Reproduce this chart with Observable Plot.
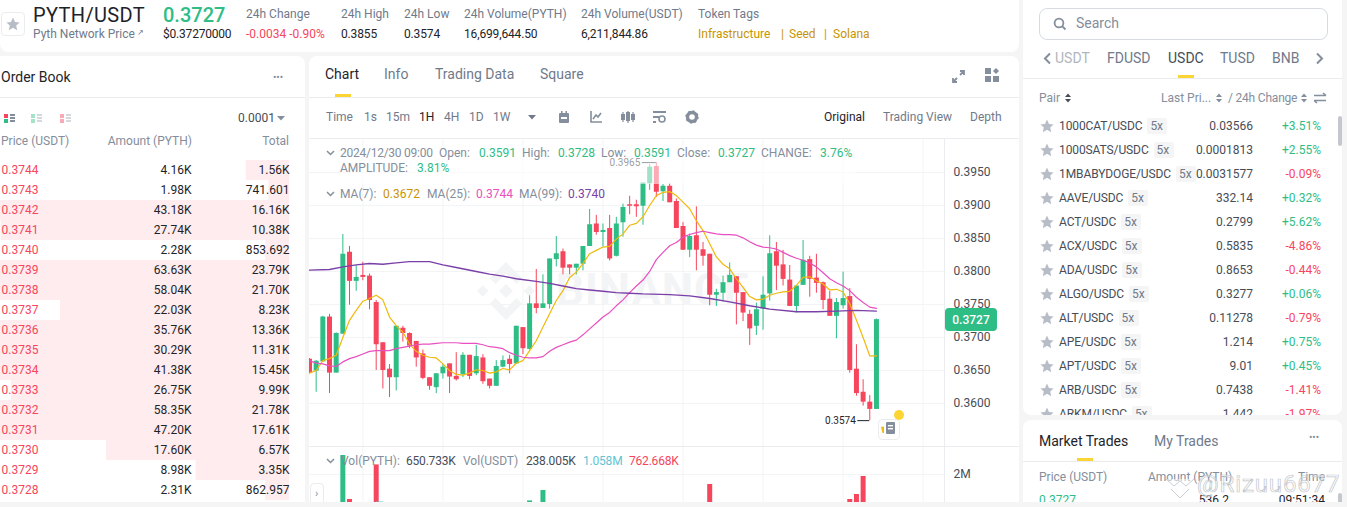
<!DOCTYPE html>
<html><head><meta charset="utf-8">
<script src="https://cdn.jsdelivr.net/npm/d3@7"></script>
<script src="https://cdn.jsdelivr.net/npm/@observablehq/plot@0.6"></script>
<style>
html,body{margin:0;padding:0;background:#f5f5f5}
#root{position:relative;width:1347px;height:507px;overflow:hidden;background:#f5f5f5;font-family:Roboto,"Noto Sans",sans-serif;font-size:12px;color:#1e2329}
.p{position:absolute;background:#fff;overflow:hidden}
.t{position:absolute;line-height:1;white-space:nowrap;transform:translateY(-50%)}
.t.r{transform:translate(-100%,-50%)}
.b{position:absolute}
svg{display:block}
</style></head><body><div id="root"></div>
<script>
// ---- 1H candles, PYTH/USDT ----
const opens=[.3667,.3649,.3663,.3731,.3646,.3705,.3829,.3785,.3794,.3793,.3753,.3692,.3652,.3639,.3714,.3706,.3694,.3675,.3639,.3624,.3645,.3660,.3641,.3644,.3673,.3645,.3669,.3637,.3626,.3655,.3667,.3660,.3715,.3682,.3751,.3744,.3750,.3818,.3830,.3810,.3805,.3811,.3838,.3872,.3859,.3865,.3823,.3874,.3901,.3901,.3899,.3933,.3959,.3921,.3929,.3906,.3868,.3832,.3854,.3833,.3826,.3764,.3767,.3783,.3792,.3768,.3735,.3717,.3743,.3766,.3830,.3810,.3787,.3747,.3779,.3818,.3790,.3783,.3758,.3732,.3748,.3762,.3652,.3617,.3602,.3591];
const closes=[.3647,.3664,.3731,.3646,.3706,.3826,.3785,.3791,.3791,.3756,.3689,.3650,.3639,.3717,.3706,.3687,.3669,.3638,.3626,.3645,.3655,.3640,.3636,.3673,.3641,.3671,.3633,.3626,.3656,.3665,.3659,.3717,.3683,.3751,.3744,.3751,.3819,.3827,.3805,.3805,.3811,.3838,.3871,.3859,.3862,.3819,.3872,.3897,.3899,.3898,.3934,.3958,.3920,.3929,.3904,.3865,.3832,.3853,.3832,.3823,.3764,.3768,.3783,.3794,.3767,.3737,.3713,.3742,.3764,.3827,.3808,.3788,.3747,.3778,.3817,.3788,.3782,.3756,.3732,.3753,.3759,.3650,.3615,.3602,.3591,.3727];
const highs=[.3668,.3665,.3732,.3735,.3707,.3856,.3838,.3809,.3814,.3796,.3756,.3692,.3659,.3717,.3717,.3707,.3694,.3681,.3639,.3645,.3659,.3660,.3677,.3677,.3673,.3688,.3674,.3637,.3665,.3672,.3673,.3717,.3715,.3763,.3803,.3795,.3819,.3853,.3834,.3810,.3811,.3838,.3894,.3885,.3872,.3885,.3882,.3902,.3914,.3908,.3934,.3962,.3965,.3932,.3933,.3910,.3874,.3857,.3898,.3844,.3826,.3773,.3793,.3813,.3792,.3768,.3741,.3752,.3792,.3854,.3844,.3832,.3809,.3778,.3847,.3823,.3826,.3784,.3770,.3759,.3799,.3774,.3689,.3636,.3612,.3728];
const lows=[.3645,.3617,.3663,.3615,.3646,.3705,.3749,.3770,.3786,.3742,.3650,.3622,.3609,.3619,.3693,.3683,.3655,.3636,.3620,.3615,.3637,.3615,.3634,.3639,.3636,.3642,.3629,.3622,.3626,.3654,.3645,.3659,.3674,.3681,.3736,.3744,.3743,.3807,.3795,.3795,.3795,.3801,.3838,.3855,.3837,.3816,.3822,.3852,.3886,.3882,.3870,.3923,.3912,.3906,.3904,.3865,.3832,.3821,.3801,.3808,.3748,.3747,.3754,.3783,.3719,.3724,.3688,.3703,.3711,.3755,.3771,.3778,.3747,.3737,.3779,.3761,.3767,.3742,.3732,.3698,.3743,.3646,.3611,.3596,.3574,.3591];
const ma7=[.3646,.3650,.3665,.3668,.3673,.3700,.3726,.3741,.3755,.3759,.3764,.3757,.3731,.3718,.3708,.3690,.3679,.3673,.3670,.3669,.3660,.3650,.3644,.3643,.3646,.3651,.3650,.3646,.3648,.3653,.3651,.3661,.3665,.3680,.3695,.3716,.3736,.3756,.3771,.3791,.3799,.3812,.3827,.3832,.3837,.3838,.3849,.3857,.3870,.3873,.3883,.3900,.3915,.3920,.3921,.3915,.3905,.3895,.3877,.3862,.3842,.3822,.3811,.3804,.3789,.3776,.3762,.3757,.3758,.3764,.3767,.3769,.3770,.3779,.3791,.3792,.3786,.3781,.3772,.3773,.3769,.3751,.3726,.3700,.3672,.3672];
const ma25=[.3665,.3661,.3660,.3657,.3656,.3663,.3668,.3671,.3675,.3679,.3680,.3680,.3680,.3683,.3685,.3687,.3689,.3690,.3690,.3691,.3692,.3692,.3692,.3691,.3691,.3691,.3689,.3686,.3685,.3683,.3677,.3673,.3670,.3669,.3669,.3671,.3679,.3685,.3689,.3693,.3696,.3704,.3713,.3722,.3731,.3738,.3748,.3757,.3768,.3778,.3787,.3800,.3818,.3829,.3839,.3844,.3852,.3856,.3859,.3861,.3859,.3857,.3856,.3856,.3855,.3851,.3845,.3840,.3837,.3836,.3834,.3829,.3824,.3820,.3817,.3813,.3807,.3798,.3789,.3783,.3778,.3771,.3761,.3753,.3746,.3744];
const ma99Index=[0,3,5,7,9,11,13,15,17,18,20,22,25,27,29,31,34,36,38,40,42,44,46,48,50,54,57,60,63,66,69,73,76,79,82,85];
const ma99=[.3802,.3803,.3807,.3810,.3812,.3811,.3813,.3815,.3815,.3815,.3810,.3806,.3800,.3796,.3793,.3789,.3785,.3782,.3778,.3774,.3772,.3770,.3768,.3767,.3766,.3765,.3763,.3759,.3754,.3748,.3743,.3739,.3739,.3740,.3741,.3740];
const priceTicks=[.36,.365,.37,.375,.38,.385,.39,.395];
const timeGrid=[8,20,32,44,56,68,80,92];
// visible volume bars (millions of PYTH)
const volIndex=[5,6,10,33,35,60,81,82,83];
const volValues=[2.475,1.375,2.24,1.34,1.6,1.75,1.375,1.5,1.95];
const volMaIndex=[10,11];
const volMa=[1.3,1.3];
// order book
const bookPrices=["0.3744","0.3743","0.3742","0.3741","0.3740","0.3739","0.3738","0.3737","0.3736","0.3735","0.3734","0.3733","0.3732","0.3731","0.3730","0.3729","0.3728"];
const bookAmounts=[4.16,1.98,43.18,27.74,2.28,63.63,58.04,22.03,35.76,30.29,41.38,26.75,58.35,47.20,17.60,8.98,2.31];
const bookAmountLabels=["4.16K","1.98K","43.18K","27.74K","2.28K","63.63K","58.04K","22.03K","35.76K","30.29K","41.38K","26.75K","58.35K","47.20K","17.60K","8.98K","2.31K"];
const bookTotals=["1.56K","741.601","16.16K","10.38K","853.692","23.79K","21.70K","8.23K","13.36K","11.31K","15.45K","9.99K","21.78K","17.61K","6.57K","3.35K","862.957"];
// pair list
const pairs=["1000CAT/USDC","1000SATS/USDC","1MBABYDOGE/USDC","AAVE/USDC","ACT/USDC","ACX/USDC","ADA/USDC","ALGO/USDC","ALT/USDC","APE/USDC","APT/USDC","ARB/USDC","ARKM/USDC"];
const pairPrices=["0.03566","0.0001813","0.0031577","332.14","0.2799","0.5835","0.8653","0.3277","0.11278","1.214","9.01","0.7438","1.442"];
const pairChanges=["+3.51%","+2.55%","-0.09%","+0.32%","+5.62%","-4.86%","-0.44%","+0.06%","-0.79%","+0.75%","+0.45%","-1.41%","-1.97%"];

const GREEN="#2ebd85",RED="#f6465d",DARK="#1e2329",GREY="#707a8a",GOLD="#c99400",FONT='Roboto,"Noto Sans",sans-serif';
const root=document.getElementById("root");
function panel(x,y,w,h,r){const d=document.createElement("div");d.className="p";d.style.cssText=`left:${x}px;top:${y}px;width:${w}px;height:${h}px;border-radius:${r||"0"}`;root.appendChild(d);return d;}
function T(par,s,x,y,o){o=o||{};const d=document.createElement("div");d.className="t"+(o.r?" r":"");d.textContent=s;
 d.style.left=x+"px";d.style.top=y+"px";d.style.fontSize=(o.s||12)+"px";d.style.color=o.c||GREY;if(o.w)d.style.fontWeight=o.w;if(o.ls)d.style.letterSpacing=o.ls;if(o.o)d.style.opacity=o.o;par.appendChild(d);return d;}
function B(par,x,y,w,h,c,r){const d=document.createElement("div");d.className="b";d.style.cssText=`left:${x}px;top:${y}px;width:${w}px;height:${h}px;background:${c};border-radius:${r||0}px`;par.appendChild(d);return d;}
function S(par,x,y,w,h,inner,vb){const d=document.createElement("div");d.className="b";d.style.cssText=`left:${x}px;top:${y}px;width:${w}px;height:${h}px`;d.innerHTML=`<svg width="${w}" height="${h}" viewBox="${vb||`0 0 ${w} ${h}`}">${inner}</svg>`;par.appendChild(d);return d;}
const star=c=>`<polygon fill="${c}" points="7,0.5 9,5 13.6,5.4 10.2,8.5 11.2,13.2 7,10.7 2.8,13.2 3.8,8.5 0.4,5.4 5,5"/>`;
const sort=c=>`<path fill="${c}" d="M4 0.5L7 4H1ZM4 9.5L1 6H7Z"/>`;
const caret=c=>`<path fill="${c}" d="M0 0H8L4 4.5Z"/>`;

// ---------- panels ----------
const top0=panel(0,0,1019,52,"0 0 8px 8px");
const ob=panel(0,56,305,446,"0 8px 0 0");
const ch=panel(309,56,710,446,"8px 8px 0 0");
const rp=panel(1023,0,319,415,"0 0 8px 8px");
const mt=panel(1023,420,319,82,"8px 8px 0 0");

// ---------- top bar ----------
B(top0,1,12,22,22,"#fff",4).style.border="1px solid #eaecef";
S(top0,6,17,14,14,star("#b7bdc6"));
T(top0,"PYTH/USDT",33,15,{s:20,c:DARK,ls:".35px"});
T(top0,"0.3727",163,15,{s:20,c:GREEN,w:500});
T(top0,"Pyth Network Price",33,34,{});
T(top0,"↗",137,33,{s:8});
T(top0,"$0.37270000",163,34,{c:DARK,ls:"-.2px"});
[["24h Change",246],["24h High",341],["24h Low",404],["24h Volume(PYTH)",464],["24h Volume(USDT)",581],["Token Tags",698]].forEach(a=>T(top0,a[0],a[1],14,{}));
T(top0,"-0.0034 -0.90%",246,34,{c:RED});
[["0.3855",341],["0.3574",404],["16,699,644.50",464],["6,211,844.86",581]].forEach(a=>T(top0,a[0],a[1],34,{c:DARK,ls:"-.15px"}));
[["Infrastructure",698],["|",781],["Seed",789],["|",824],["Solana",833]].forEach(a=>T(top0,a[0],a[1],34,{c:GOLD}));

// ---------- order book ----------
const oy=y=>y-56;
T(ob,"Order Book",1,oy(77),{s:14,c:DARK});
T(ob,"•••",273,oy(78),{s:10,c:"#848e9c"});
B(ob,0,oy(97),305,1,"#eaecef");
[[4,"#f6465d","#2ebd85","#848e9c"],[31,"#a5e3c8","#a5e3c8","#d5d8dc"],[60,"#fba9b4","#fba9b4","#d5d8dc"]].forEach(a=>{
 B(ob,a[0],oy(114),4,4,a[1]);B(ob,a[0],oy(119),4,4,a[2]);
 for(let k=0;k<3;k++)B(ob,a[0]+6,oy(114+k*3.2),5,2,a[3]);
});
T(ob,"0.0001",238,oy(118),{c:"#474d57"});
S(ob,277,oy(116),8,5,caret("#848e9c"));
T(ob,"Price (USDT)",1,oy(141),{c:"#848e9c"});
T(ob,"Amount (PYTH)",192,oy(141),{c:"#848e9c",r:1});
T(ob,"Total",289,oy(141),{c:"#848e9c",r:1});

const book=bookPrices.map((p,i)=>({price:p,amount:bookAmounts[i],label:bookAmountLabels[i],total:bookTotals[i]}));
const bookPlot=Plot.plot({width:289,height:340,margin:0,
 style:{background:"transparent",fontFamily:FONT,fontSize:"12px",overflow:"visible"},
 x:{domain:[0,27.8],range:[289,0],clamp:true,axis:null},
 y:{type:"band",domain:bookPrices,padding:0,axis:null},
 marks:[
  Plot.barX(book,{x1:0,x2:"amount",y:"price",fill:"#feecee",insetTop:0,insetBottom:0}),
  Plot.text(book,{text:"price",y:"price",frameAnchor:"left",textAnchor:"start",dx:1,fill:RED,fontSize:12}),
  Plot.text(book,{text:"label",y:"price",frameAnchor:"right",textAnchor:"end",dx:-98,fill:"#1e2329",fontSize:12}),
  Plot.text(book,{text:"total",y:"price",frameAnchor:"right",textAnchor:"end",fill:"#1e2329",fontSize:12})
 ]});
bookPlot.style.position="absolute";bookPlot.style.left="0";bookPlot.style.top=oy(160)+"px";ob.appendChild(bookPlot);

// ---------- chart header ----------
const cx=x=>x-309,cy=y=>y-56;
T(ch,"Chart",cx(325),cy(74),{s:14,c:DARK});
[["Info",384],["Trading Data",435],["Square",540]].forEach(a=>T(ch,a[0],cx(a[1]),cy(74),{s:14}));
B(ch,cx(335),cy(94),16,3,"#fcd535");
B(ch,0,cy(97),710,1,"#eaecef");
S(ch,cx(952),cy(70),13,13,`<path fill="none" stroke="#848e9c" stroke-width="1.8" d="M8 1H12V5M12 1L8 5M5 12H1V8M1 12L5 8"/>`);
S(ch,cx(985),cy(68),14,14,`<g fill="#848e9c"><rect x="0" y="0" width="6" height="6"/><rect x="0" y="8" width="6" height="6"/><rect x="8" y="8" width="6" height="6"/><path d="M11 0L14 3L11 6L8 3Z"/></g>`);
[["Time",326],["1s",364],["15m",386],["4H",444],["1D",469],["1W",493]].forEach(a=>T(ch,a[0],cx(a[1]),cy(117),{}));
T(ch,"1H",cx(419),cy(117),{c:DARK});
S(ch,cx(528),cy(115),8,5,caret(GREY));
const ic="#848e9c";
S(ch,cx(558),cy(111),12,12,`<g fill="${ic}"><rect x="1" y="2" width="10" height="10" rx="1"/><rect x="3" y="0" width="1.5" height="3"/><rect x="7.5" y="0" width="1.5" height="3"/></g><rect x="3" y="6" width="6" height="2" fill="#fff"/>`);
S(ch,cx(590),cy(111),12,12,`<path fill="none" stroke="${ic}" stroke-width="1.6" d="M1 0V11H12M3 8L6 4L8 6L11 2"/>`);
S(ch,cx(620),cy(111),16,12,`<g fill="${ic}"><rect x="1" y="3" width="4" height="6"/><rect x="2.4" y="1" width="1.2" height="10"/><rect x="6" y="1" width="4" height="9"/><rect x="7.4" y="0" width="1.2" height="12"/><rect x="11" y="3" width="4" height="6"/><rect x="12.4" y="1" width="1.2" height="10"/></g>`);
S(ch,cx(653),cy(111),14,12,`<g fill="${ic}"><rect x="0" y="0" width="13" height="2"/><rect x="0" y="5" width="6" height="2"/><rect x="0" y="10" width="3" height="2"/></g><circle cx="9" cy="8" r="3" fill="none" stroke="${ic}" stroke-width="1.6"/>`);
S(ch,cx(685),cy(110),14,14,`<circle cx="7" cy="7" r="4.5" fill="none" stroke="${ic}" stroke-width="3.4"/><circle cx="7" cy="7" r="6" fill="none" stroke="${ic}" stroke-width="1.4" stroke-dasharray="2 2.7"/>`);
T(ch,"Original",cx(824),cy(117),{c:DARK});
T(ch,"Trading View",cx(883),cy(117),{});
T(ch,"Depth",cx(970),cy(117),{});
B(ch,0,cy(138),710,1,"#eaecef");

// watermark sits behind the candles
S(ch,cx(477),cy(262),58,58,`<g fill="#f3f4f5"><path d="M50 20L68 38L78 28L50 0L22 28L32 38Z"/><path d="M50 80L68 62L78 72L50 100L22 72L32 62Z"/><path d="M0 50L10 40L20 50L10 60Z"/><path d="M100 50L90 40L80 50L90 60Z"/><path d="M50 38L62 50L50 62L38 50Z"/></g>`,"0 0 100 100");
T(ch,"BINANCE",cx(556),cy(290),{s:44,c:"#f3f4f5",w:700,ls:"1px"});

// ---------- candlesticks ----------
const candles=opens.map((o,i)=>({i,open:o,close:closes[i],high:highs[i],low:lows[i]}));
const color=d=>d.close>=d.open?GREEN:RED;
const line=(arr,idx)=>arr.map((v,k)=>({i:idx?idx[k]:k,v}));
const plotStyle={background:"transparent",fontFamily:FONT,fontSize:"12px"};
const xScale={domain:[0,635/6.67],range:[0,635],axis:null};
const last=candles[85],lowC=candles[84],hiC=candles[52];
const main=Plot.plot({width:710,height:307,marginTop:0,marginBottom:0,marginLeft:0,marginRight:75,style:plotStyle,
 x:xScale,y:{domain:[.35348,.4],range:[307,0]},
 marks:[
  Plot.gridY(priceTicks,{stroke:"#f3f4f5",strokeOpacity:1}),
  Plot.gridX(timeGrid,{stroke:"#f3f4f5",strokeOpacity:1}),
  Plot.axisY(priceTicks,{anchor:"right",tickSize:0,tickPadding:9,label:null,fontSize:12,fill:"#474d57",tickFormat:d=>d.toFixed(4)}),
  Plot.ruleX(candles,{x:"i",y1:"low",y2:"high",stroke:color,strokeWidth:1}),
  Plot.ruleX(candles,{x:"i",y1:"open",y2:"close",stroke:color,strokeWidth:5}),
  Plot.line(line(ma7),{x:"i",y:"v",stroke:"#f0b90b",strokeWidth:1.2}),
  Plot.line(line(ma25),{x:"i",y:"v",stroke:"#e84fc0",strokeWidth:1.2}),
  Plot.line(line(ma99,ma99Index),{x:"i",y:"v",stroke:"#7b3fa8",strokeWidth:1.4}),
  Plot.ruleY([lowC],{y:"low",x1:82.2,x2:84,stroke:"#1e2329",strokeWidth:1}),
  Plot.text([lowC],{x:"i",y:"low",text:d=>d.low.toFixed(4),textAnchor:"end",dx:-14,fill:"#1e2329",fontSize:10}),
  Plot.ruleY([hiC],{y:"high",x1:49.9,x2:52,stroke:"#1e2329",strokeWidth:1}),
  Plot.text([hiC],{x:"i",y:"high",text:d=>d.high.toFixed(4),textAnchor:"end",dx:-16,fill:"#1e2329",fontSize:10})
 ]});
main.style.position="absolute";main.style.left="0";main.style.top=cy(139)+"px";ch.appendChild(main);

// ---------- volume pane ----------
B(ch,0,cy(446),710,1,"#eaecef");
const volRows=volIndex.map((i,k)=>({i,v:volValues[k],up:closes[i]>=opens[i]}));
const vol=Plot.plot({width:710,height:56,marginTop:0,marginBottom:0,marginLeft:0,marginRight:75,style:plotStyle,
 x:xScale,y:{domain:[1.275,2.675],range:[56,0]},
 marks:[
  Plot.gridY([2],{stroke:"#f3f4f5",strokeOpacity:1}),
  Plot.gridX(timeGrid,{stroke:"#f3f4f5",strokeOpacity:1}),
  Plot.axisY([2],{anchor:"right",tickSize:0,tickPadding:9,label:null,fontSize:12,fill:"#474d57",tickFormat:d=>d+"M"}),
  Plot.ruleX(volRows,{x:"i",y1:1.2,y2:"v",stroke:d=>d.up?GREEN:RED,strokeWidth:5,clip:true}),
  Plot.line(line(volMa,volMaIndex),{x:"i",y:"v",stroke:"#62c4d4",strokeWidth:2})
 ]});
vol.style.position="absolute";vol.style.left="0";vol.style.top=cy(447)+"px";ch.appendChild(vol);
B(ch,cx(944),cy(139),1,364,"#eaecef");

// translucent legend veil, legend text
const veil=B(ch,cx(340),cy(146),515,38,"rgba(255,255,255,.55)");
const chev=(x,y)=>S(ch,cx(x),cy(y),9,6,`<path fill="none" stroke="#848e9c" stroke-width="1.5" d="M1 1L4.5 4.5L8 1"/>`);
chev(326,150);chev(326,191);chev(326,458);
T(ch,"2024/12/30 09:00",cx(340),cy(153),{c:"#848e9c",ls:"-.25px"});
[["Open:",439,153],["High:",522,153],["Low:",601,153],["Close:",677,153],["CHANGE:",761,153],["AMPLITUDE:",340,168],["MA(7):",340,194],["MA(25):",427,194],["MA(99):",519,194],["Vol(PYTH):",341,461],["Vol(USDT)",463,461]].forEach(a=>T(ch,a[0],cx(a[1]),cy(a[2]),{c:"#848e9c"}));
[["0.3591",479,153],["0.3728",558,153],["0.3591",634,153],["0.3727",718,153],["3.76%",820,153],["3.81%",417,168]].forEach(a=>T(ch,a[0],cx(a[1]),cy(a[2]),{c:GREEN}));
T(ch,"0.3672",cx(383),cy(194),{c:"#c99400"});
T(ch,"0.3744",cx(476),cy(194),{c:"#e84fc0"});
T(ch,"0.3740",cx(568),cy(194),{c:"#7b3fa8"});
T(ch,"650.733K",cx(406),cy(461),{c:"#474d57",ls:"-.2px"});
T(ch,"238.005K",cx(526),cy(461),{c:"#474d57",ls:"-.2px"});
T(ch,"1.058M",cx(583),cy(461),{c:"#62c4d4",ls:"-.2px"});
T(ch,"762.668K",cx(629),cy(461),{c:RED,ls:"-.2px"});

// last-price badge
const badge=B(ch,cx(945),cy(308),52,23,GREEN,4);
T(badge,"0.3727",26,11.5,{c:"#fff",w:500}).style.transform="translate(-50%,-50%)";
// order marker
const mk=B(ch,cx(878),cy(419),20,19,"#fff",4);mk.style.border="1px solid #eaecef";
S(ch,cx(881),cy(422),15,13,`<rect x="5" y="0" width="9" height="12" rx="1" fill="#848e9c"/><g fill="#fff"><rect x="7" y="3" width="5" height="1.4"/><rect x="7" y="6" width="5" height="1.4"/></g><path d="M0 5L3 4.5V11H1.5Z" fill="#f0b90b"/>`);
const dot=B(ch,cx(894),cy(410),10,10,"#fcd535",5);
// collapse button
const btn=B(ch,cx(310),cy(483),12,24,"#fff",4);btn.style.border="1px solid #eaecef";
T(btn,"›",4,9,{s:11,c:"#848e9c"});

// ---------- right panel ----------
const rx=x=>x-1023;
const sb=B(rp,rx(1039),8,287,30,"#fff",8);sb.style.border="1px solid #d8dce1";
S(rp,rx(1053),17,14,14,`<circle cx="6" cy="6" r="4.4" fill="none" stroke="#848e9c" stroke-width="1.8"/><path d="M9 9L12.5 12.5" stroke="#848e9c" stroke-width="1.8"/>`);
T(rp,"Search",rx(1076),23,{s:14,c:"#848e9c"});
S(rp,rx(1043),52,9,13,`<path fill="none" stroke="#848e9c" stroke-width="2" d="M7 1.5L2 6.5L7 11.5"/>`);
S(rp,rx(1315),52,9,13,`<path fill="none" stroke="#848e9c" stroke-width="2" d="M2 1.5L7 6.5L2 11.5"/>`);
T(rp,"USDT",rx(1055),58,{s:14,c:"#707a8a",o:.55});
[["FDUSD",1107],["TUSD",1220],["BNB",1272]].forEach(a=>T(rp,a[0],rx(a[1]),58,{s:14}));
T(rp,"USDC",rx(1168),58,{s:14,c:"#474d57"});
B(rp,rx(1178),75,16,3,"#fcd535");
B(rp,0,78,319,1,"#eaecef");
T(rp,"Pair",rx(1039),98,{c:"#848e9c"});
S(rp,rx(1064),93,8,10,sort("#474d57"));
T(rp,"Last Pri...",rx(1161),98,{c:"#848e9c"});
S(rp,rx(1215),93,8,10,sort("#848e9c"));
T(rp,"/ 24h Change",rx(1228),98,{c:"#848e9c",ls:"-.2px"});
S(rp,rx(1300),93,8,10,sort("#848e9c"));
S(rp,rx(1314),92,13,12,`<path fill="none" stroke="#848e9c" stroke-width="1.6" d="M0 3.5H12M9 1L12 3.5M12 8.5H0M3 11L0 8.5"/>`);
pairs.forEach((n,k)=>{
 const y=126+24*k;
 S(rp,rx(1040),y-7,14,14,star("#b7bdc6"));
 const nm=T(rp,n,rx(1059),y,{c:"#474d57",ls:"-.1px"});
 const bx=rx(1059)+nm.getBoundingClientRect().width+5;
 const tag=B(rp,bx,y-8,20,16,"#f5f5f5",2);
 T(tag,"5x",3,8,{c:"#707a8a"});
 T(rp,pairPrices[k],rx(1253),y,{c:"#474d57",r:1});
 T(rp,pairChanges[k],rx(1321),y,{c:pairChanges[k][0]==="+"?GREEN:RED,r:1});
});
B(rp,315,116,4,30,"#c4c8ce",2);

// ---------- market trades ----------
const my=y=>y-420;
T(mt,"Market Trades",rx(1039),my(441),{s:14,c:"#1e2329"});
T(mt,"My Trades",rx(1154),my(441),{s:14});
T(mt,"•••",rx(1309),my(438),{s:10,c:"#848e9c"});
B(mt,rx(1077),my(458),16,3,"#fcd535");
B(mt,0,my(461),319,1,"#eaecef");
T(mt,"Price (USDT)",rx(1039),my(477),{c:"#848e9c"});
T(mt,"Amount (PYTH)",rx(1148),my(477),{c:"#848e9c"});
T(mt,"Time",rx(1325),my(477),{c:"#848e9c",r:1});
T(mt,"0.3727",rx(1039),my(500),{c:GREEN});
T(mt,"536.2",rx(1229),my(500),{c:"#1e2329",r:1});
T(mt,"09:51:34",rx(1325),my(500),{c:"#1e2329",r:1});
B(mt,315,my(493),4,12,"#c4c8ce",2);

// overlay watermark
S(root,1165,478,30,22,`<path fill="rgba(255,255,255,.5)" stroke="#c9cdd2" stroke-width="1" d="M1 1L9 8L15 3L21 8L29 1M6 11L15 20L24 11"/>`);
const wm=T(root,"@Rizuu6677",1197,484,{s:24,c:"rgba(255,255,255,.35)",ls:".9px"});
wm.style.webkitTextStroke=".7px #c3c7cc";
</script></body></html>
